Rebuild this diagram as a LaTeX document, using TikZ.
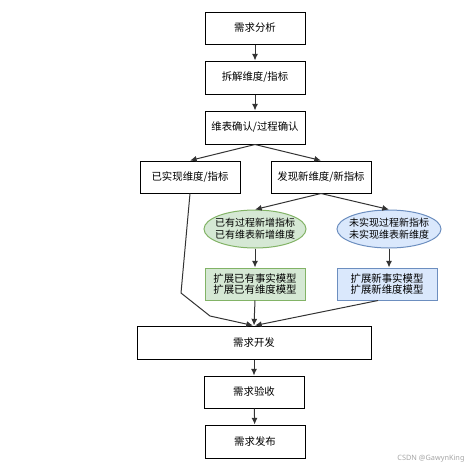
\documentclass[tikz,border=0pt]{standalone}
\usepackage{fontspec}
\newfontfamily\cjk{Noto Sans CJK SC}
\newfontfamily\wm{Noto Sans}
\usetikzlibrary{arrows.meta,shapes.geometric,calc}
\definecolor{gfill}{HTML}{D5E8D4}
\definecolor{gline}{HTML}{82B366}
\definecolor{bfill}{HTML}{DAE8FC}
\definecolor{bline}{HTML}{6C8EBF}
\tikzset{
  box/.style={draw=black, line width=0.75pt, rectangle, minimum width=75pt, minimum height=24pt, inner sep=1pt, align=center, font=\cjk\fontsize{7.8pt}{8.6pt}\selectfont},
  greenbox/.style={box, fill=gfill, draw=gline},
  bluebox/.style={box, fill=bfill, draw=bline},
  ellbase/.style={box, ellipse, inner xsep=-14pt, inner ysep=-6pt, font=\cjk\fontsize{7.5pt}{9pt}\selectfont},
  greenell/.style={ellbase, fill=gfill, draw=gline, minimum width=76.5pt, minimum height=28.5pt},
  blueell/.style={ellbase, fill=bfill, draw=bline, minimum width=78pt, minimum height=28.5pt},
  conn/.style={draw=black!80, line width=0.75pt, -{Latex[length=5pt,width=4.5pt]}},
}
\begin{document}
\begin{tikzpicture}[x=0.75pt,y=-0.75pt]
\useasboundingbox (0,0) rectangle (474,468);
\node[box] (n1) at (255,28) {需求分析};
\node[box, minimum height=24.75pt] (n2) at (255,77.5) {拆解维度/指标};
\node[box, minimum height=24.75pt] (n3) at (255,127.5) {维表确认/过程确认};
\node[box] (n4) at (190,177) {已实现维度/指标};
\node[box] (n5) at (321,177) {发现新维度/新指标};
\node[greenell] (e1) at (255,229) {已有过程新增指标\\已有维表新增维度};
\node[blueell] (e2) at (389,229) {未实现过程新指标\\未实现维表新维度};
\node[greenbox] (g) at (255,284) {扩展已有事实模型\\扩展已有维度模型};
\node[bluebox] (b) at (387,284) {扩展新事实模型\\扩展新维度模型};
\node[box, minimum width=175.5pt, minimum height=24.75pt] (dev) at (254,342.5) {需求开发};
\node[box] (acc) at (254,392) {需求验收};
\node[box, minimum height=24.75pt] (rel) at (255,441.5) {需求发布};
\node[font=\wm\fontsize{5.5pt}{6pt}\selectfont, text=black!35, inner sep=0pt] (wmk) at (431,459) {CSDN @GawynKing};
\coordinate (k1) at (181,293);
\coordinate (k2) at (210,316);
\draw[conn] (n1) -- (n2);
\draw[conn] (n2) -- (n3);
\draw[conn] (n3.south) -- (n4.north);
\draw[conn] (n3.south) -- (n5.north);
\draw[conn] (n5.south) -- (e1.north);
\draw[conn] (n5.south) -- (e2.north);
\draw[conn] (e1) -- (g);
\draw[conn] (e2.south) -- (e2.south |- g.north);
\draw[conn] (g.south) -- (dev.north);
\draw[conn] ($(b.south)+(-9,0)$) -- ($(dev.north)+(1,0)$);
\draw[conn] (n4.south) -- (k1) -- (k2) -- ($(dev.north)+(-1,0)$);
\draw[conn] (dev) -- (acc);
\draw[conn] (acc) -- (rel);
\end{tikzpicture}
\end{document}
